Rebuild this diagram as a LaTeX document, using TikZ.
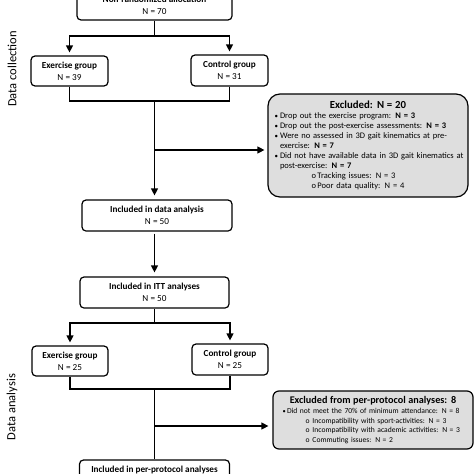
\documentclass[tikz,border=0pt]{standalone}
\usepackage{fontspec}
\setmainfont{Carlito}
\usetikzlibrary{arrows.meta}
\definecolor{excfill}{RGB}{222,222,222}
\newcommand{\bul}{\makebox[5.5pt][l]{\fontsize{7}{7}\selectfont\textbullet}}
\newcommand{\subbul}{\makebox[6pt][l]{o}}
\begin{document}
\begin{tikzpicture}[x=1pt,y=-1pt,
  box/.style={draw, line width=1.2pt, rounded corners=4pt, align=center, inner sep=0pt, font=\fontsize{9.2}{12}\selectfont},
  excbox/.style={draw, line width=1.2pt, fill=excfill, align=left, inner xsep=6.5pt, inner ysep=0pt},
  conn/.style={line width=1.2pt},
  arr/.style={conn, -{Triangle[width=7pt,length=7pt]}},
  side/.style={rotate=90, font=\fontsize{12.5}{13}\selectfont}
]
\useasboundingbox (0,0) rectangle (474,474);
\clip (0,0) rectangle (474,474);

\node[box, minimum width=155pt, minimum height=30pt] (alloc) at (154.5,5) {\textbf{Non-randomized allocation}\\N = 70};
\node[box, minimum width=77pt, minimum height=30pt] (ex1) at (69.5,71) {\textbf{Exercise group}\\N = 39};
\node[box, minimum width=77pt, minimum height=31pt] (co1) at (229.5,70.5) {\textbf{Control group}\\N = 31};
\node[box, minimum width=150pt, minimum height=31pt] (incl) at (157,215.5) {\textbf{Included in data analysis}\\N = 50};
\node[box, minimum width=149pt, minimum height=31pt] (itt) at (154.5,292.5) {\textbf{Included in ITT analyses}\\N = 50};
\node[box, minimum width=76pt, minimum height=30pt] (ex2) at (70,361) {\textbf{Exercise group}\\N = 25};
\node[box, minimum width=76pt, minimum height=31pt] (co2) at (230,359.5) {\textbf{Control group}\\N = 25};
\node[box, minimum width=150pt, minimum height=31pt] (pp) at (154.5,475.5) {\textbf{Included in per-protocol analyses}\\\phantom{N}};

\node[excbox, text width=187pt, minimum height=103pt, rounded corners=12pt, font=\fontsize{8.5}{10}\selectfont] (exc1) at (368,145.5) {%
\makebox[187pt][c]{\fontsize{10.8}{11}\selectfont\bfseries Excluded: N = 20}\\[0.5pt]
\mbox{\bul Drop out the exercise program: \textbf{N = 3}}\\
\mbox{\bul Drop out the post-exercise assessments: \textbf{N = 3}}\\
\mbox{\bul Were no assessed in 3D gait kinematics at pre-}\\
\mbox{\hspace*{5.5pt}exercise: \textbf{N = 7}}\\
\mbox{\bul Did not have available data in 3D gait kinematics at}\\
\mbox{\hspace*{5.5pt}post-exercise: \textbf{N = 7}}\\
\mbox{\hspace*{37pt}\subbul Tracking issues: N = 3}\\
\mbox{\hspace*{37pt}\subbul Poor data quality: N = 4}};

\node[excbox, text width=187pt, minimum height=58pt, rounded corners=6pt, font=\fontsize{7.6}{9.6}\selectfont] (exc2) at (373,420) {%
\makebox[187pt][c]{\fontsize{10.2}{10}\selectfont\bfseries Excluded from per-protocol analyses: 8}\\[0.5pt]
\mbox{\hspace*{3pt}\makebox[4.5pt][l]{\fontsize{6.5}{7}\selectfont\textbullet}Did not meet the 70\% of minimum attendance: N = 8}\\
\mbox{\hspace*{26pt}\makebox[7pt][l]{o}Incompatibility with sport-activities: N = 3}\\
\mbox{\hspace*{26pt}\makebox[7pt][l]{o}Incompatibility with academic activities: N = 3}\\
\mbox{\hspace*{26pt}\makebox[7pt][l]{o}Commuting issues: N = 2}};

\node[side] (dc) at (12,69) {Data collection};
\node[side] (da) at (12,407) {Data analysis};

\coordinate (j1) at (154.5,36);
\coordinate (j2) at (154.5,101);
\coordinate (j3) at (154.5,150);
\coordinate (j4) at (154.5,323);
\coordinate (j5) at (154.5,389);
\coordinate (j6) at (154.5,426);

\draw[conn] (alloc.south) -- (j1);
\draw[arr, shorten >=3pt] (j1) -| (ex1.north);
\draw[arr, shorten >=3pt] (j1) -| (co1.north);
\draw[conn] (ex1.south) |- (j2);
\draw[conn] (co1.south) |- (j2);
\draw[arr, shorten >=4pt] (j2) -- (incl.north -| j2);
\draw[arr, shorten >=3pt] (j3) -- (exc1.west |- j3);
\draw[arr, shorten <=2pt, shorten >=4pt] (itt.north |- incl.south) -- (itt.north);
\draw[conn] (itt.south) -- (j4);
\draw[arr, shorten >=3pt] (j4) -| (ex2.north);
\draw[arr, shorten >=3pt] (j4) -| (co2.north);
\draw[conn] (ex2.south) |- (j5);
\draw[conn] (co2.south) |- (j5);
\draw[conn] (j5) -- (pp.north);
\draw[arr, shorten >=4pt] (j6) -- (exc2.west |- j6);
\end{tikzpicture}
\end{document}
